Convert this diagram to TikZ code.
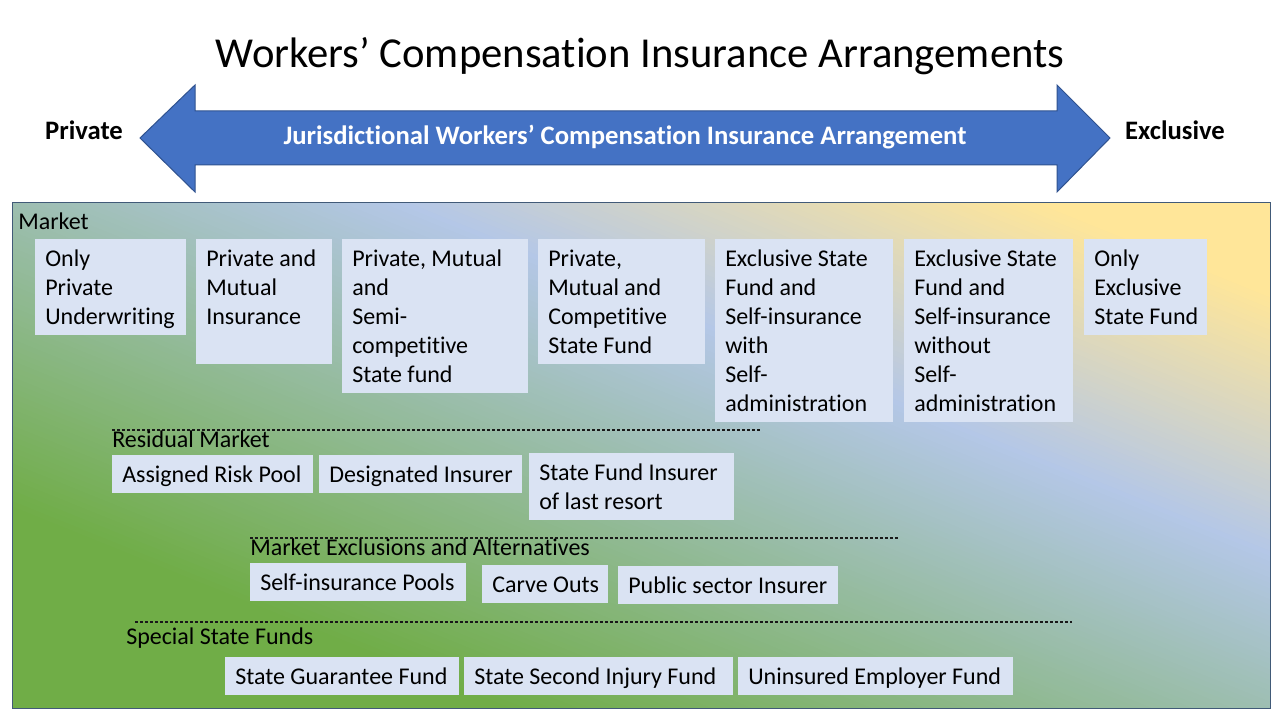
\documentclass[tikz,border=0pt]{standalone}
\usepackage{fontspec}
\setmainfont{Carlito}[Ligatures=NoCommon]
\definecolor{bggreen}{RGB}{112,173,71}
\definecolor{bgblue}{RGB}{180,199,231}
\definecolor{bgyellow}{RGB}{255,230,153}
\definecolor{boxfill}{RGB}{218,227,243}
\definecolor{arrowfill}{RGB}{68,114,196}
\definecolor{arrowline}{RGB}{47,82,143}
\definecolor{frameline}{RGB}{65,90,120}
\newcommand\sx{\rule[-5pt]{0pt}{21.75pt}}
\newcommand\boxline[1]{\mbox{\spaceskip=0pt\xspaceskip=0pt\relax\sx #1}}
\newcommand\bodyfont{\fontsize{18}{21.75}\selectfont}
\tikzset{
  cell/.style={fill=boxfill, draw=none, anchor=north west, align=left,
    inner xsep=7.5pt, inner ysep=3.375pt, font=\bodyfont},
  grouplabel/.style={anchor=base west, inner sep=0pt, font=\bodyfont},
  sidelabel/.style={inner sep=0pt, anchor=base, font=\fontsize{20}{24}\selectfont\bfseries},
  sepline/.style={draw=black!90, line width=0.8pt, dash pattern=on 2.25pt off 1.5pt},
}
\begin{document}
\begin{tikzpicture}[x=0.75pt,y=-0.75pt]
\useasboundingbox (0,0) rectangle (1280,720);
\fill[white] (0,0) rectangle (1280,720);
% title
\node[anchor=base, inner sep=0pt, font=\fontsize{32}{38}\selectfont] (title) at (640,68) {Workers’ Compensation Insurance Arrangements};
% double arrow
\draw[fill=arrowfill, draw=arrowline, line width=0.75pt, line join=miter]
  (140,138) -- (195,85) -- (195,111) -- (1057,111) -- (1057,85) -- (1110,138)
  -- (1057,192) -- (1057,165) -- (195,165) -- (195,192) -- cycle;
\node[sidelabel, text=white] (arrowtext) at (625,145) {Jurisdictional Workers’ Compensation Insurance Arrangement};
\node[sidelabel] (private) at (84,140) {Private};
\node[sidelabel] (exclusive) at (1175,140) {Exclusive};
% background panel: diagonal gradient green -> blue -> yellow
\begin{scope}
  \clip (12,203) rectangle (1270,708);
  \foreach \i in {0,...,191}{
    \pgfmathsetmacro\u{-660+5*\i}
    \pgfmathsetmacro\v{\u+6}
    \pgfmathsetmacro\pa{max(0,min(100,(-40-\u)/430*100))}
    \pgfmathsetmacro\pb{max(0,min(100,(\u+40)/240*100))}
    \ifdim\u pt<-40pt
      \colorlet{stripc}{bggreen!\pa!bgblue}
    \else
      \colorlet{stripc}{bgyellow!\pb!bgblue}
    \fi
    \fill[stripc] ({0.3746*\u-2318},{-0.9272*\u-936.5}) -- ({0.3746*\u+2318},{-0.9272*\u+936.5})
      -- ({0.3746*\v+2318},{-0.9272*\v+936.5}) -- ({0.3746*\v-2318},{-0.9272*\v-936.5}) -- cycle;
  }
\end{scope}
\draw[frameline, line width=0.75pt] (12,203) rectangle (1270,708);
% Market
\node[grouplabel] (market) at (18,229) {Market};
\node[cell, text width=98.25pt] (b1) at (35,239) {\boxline{Only}\\\boxline{Private}\\\boxline{Underwriting}};
\node[cell, text width=87pt] (b2) at (196,239) {\boxline{Private and}\\\boxline{Mutual}\\\boxline{Insurance}\\\boxline{}};
\node[cell, text width=124.5pt] (b3) at (342,239) {\boxline{Private, Mutual}\\\boxline{and}\\\boxline{Semi-}\\\boxline{competitive}\\\boxline{State fund}};
\node[cell, text width=110.25pt] (b4) at (538,239) {\boxline{Private,}\\\boxline{Mutual and}\\\boxline{Competitive}\\\boxline{State Fund}};
\node[cell, text width=118.5pt] (b5) at (715,239) {\boxline{Exclusive State}\\\boxline{Fund and}\\\boxline{Self-insurance}\\\boxline{with}\\\boxline{Self-}\\\boxline{administration}};
\node[cell, text width=111.75pt] (b6) at (904,239) {\boxline{Exclusive State}\\\boxline{Fund and}\\\boxline{Self-insurance}\\\boxline{without}\\\boxline{Self-}\\\boxline{administration}};
\node[cell, text width=77.25pt] (b7) at (1084,239) {\boxline{Only}\\\boxline{Exclusive}\\\boxline{State Fund}};
% Residual market
\coordinate (d1a) at (112,430);
\coordinate (d1b) at (760,430);
\draw[sepline] (d1a) -- (d1b);
\node[grouplabel] (residual) at (112,447) {Residual Market};
\node[cell, text width=135.75pt] (r1) at (112,455) {\boxline{Assigned Risk Pool}};
\node[cell, text width=137.25pt] (r2) at (319,455) {\boxline{Designated Insurer}};
\node[cell, text width=138.75pt] (r3) at (529,453) {\boxline{State Fund Insurer}\\\boxline{of last resort}};
% Market exclusions
\coordinate (d2a) at (250,538);
\coordinate (d2b) at (898,538);
\draw[sepline] (d2a) -- (d2b);
\node[grouplabel] (exclusions) at (250,555) {Market Exclusions and Alternatives};
\node[cell, text width=147pt] (e1) at (250,563) {\boxline{Self-insurance Pools}};
\node[cell, text width=79.5pt] (e2) at (482,565) {\boxline{Carve Outs}};
\node[cell, text width=150pt] (e3) at (618,566) {\boxline{Public sector Insurer}};
% Special state funds
\coordinate (d3a) at (135,622);
\coordinate (d3b) at (1072,622);
\draw[sepline] (d3a) -- (d3b);
\node[grouplabel] (special) at (126,644) {Special State Funds};
\node[cell, text width=160.5pt] (s1) at (225,657) {\boxline{State Guarantee Fund}};
\node[cell, text width=186.75pt] (s2) at (464,657) {\boxline{State Second Injury Fund}};
\node[cell, text width=191.25pt] (s3) at (738,657) {\boxline{Uninsured Employer Fund}};
\end{tikzpicture}
\end{document}
